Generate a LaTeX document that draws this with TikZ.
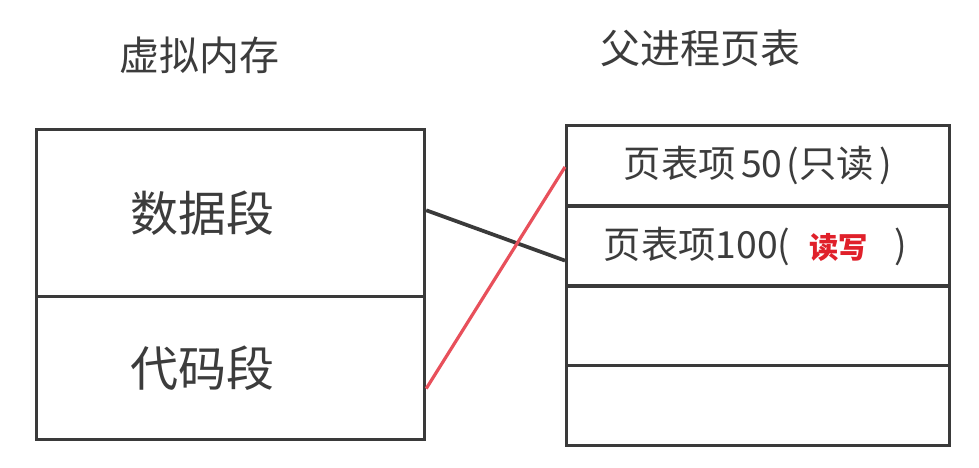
\documentclass[tikz,border=0pt]{standalone}
\usepackage{fontspec}
\setmainfont{Noto Sans CJK SC}
\newfontfamily\cjk{Noto Sans CJK SC}
\usetikzlibrary{positioning}
\definecolor{boxgray}{HTML}{3A3A3A}
\definecolor{linkred}{HTML}{E8505B}
\definecolor{txtred}{HTML}{E0202A}
\definecolor{txtgray}{HTML}{3C3C3C}
\begin{document}
\begin{tikzpicture}[x=0.75pt,y=-0.75pt,
  seg/.style={draw=boxgray, line width=2.4pt, rectangle, minimum width=291pt, inner sep=0pt, text=txtgray, font=\cjk\fontsize{36}{40}\selectfont},
  row/.style={draw=boxgray, line width=2.4pt, rectangle, minimum width=287pt, minimum height=60pt, inner sep=0pt, text=txtgray, font=\cjk\fontsize{28}{32}\selectfont},
  title/.style={text=txtgray, font=\cjk\fontsize{30}{34}\selectfont},
  blackline/.style={draw=boxgray, line width=2.8pt},
  redline/.style={draw=linkred, line width=2.4pt}]
\useasboundingbox (0,0) rectangle (979,468);
\fill[white] (0,0) rectangle (979,468);
% left: virtual memory
\node[seg, minimum height=125pt, anchor=north west] (data) at (35,128) {\hspace*{-42pt}数据段};
\node[seg, minimum height=107pt, anchor=north west] (code) at (35,295) {\hspace*{-42pt}代码段};
% right: page table
\node[row, anchor=north west] (r1) at (565,124) {页表项\hspace{4pt}50\hspace{3pt}(只读\hspace{4pt})};
\node[row, anchor=north west] (r2) at (565,205) {\hspace*{-4pt}页表项100(\hspace{0.5em}{\color{txtred}\fontsize{22}{26}\selectfont\bfseries 读写}\hspace{0.7em})};
\node[row, anchor=north west] (r3) at (565,284) {};
\node[row, anchor=north west] (r4) at (565,364) {};
% titles
\node[title] (tl) at (199,55) {虚拟内存};
\node[title] (tr) at (700,48) {父进程页表};
% connectors
\draw[blackline] ([yshift=2pt]data.east) -- ([yshift=-10.5pt]r2.west);
\draw[redline] ([yshift=-15.5pt]code.east) -- ([yshift=-1pt]r1.west);
\end{tikzpicture}
\end{document}
